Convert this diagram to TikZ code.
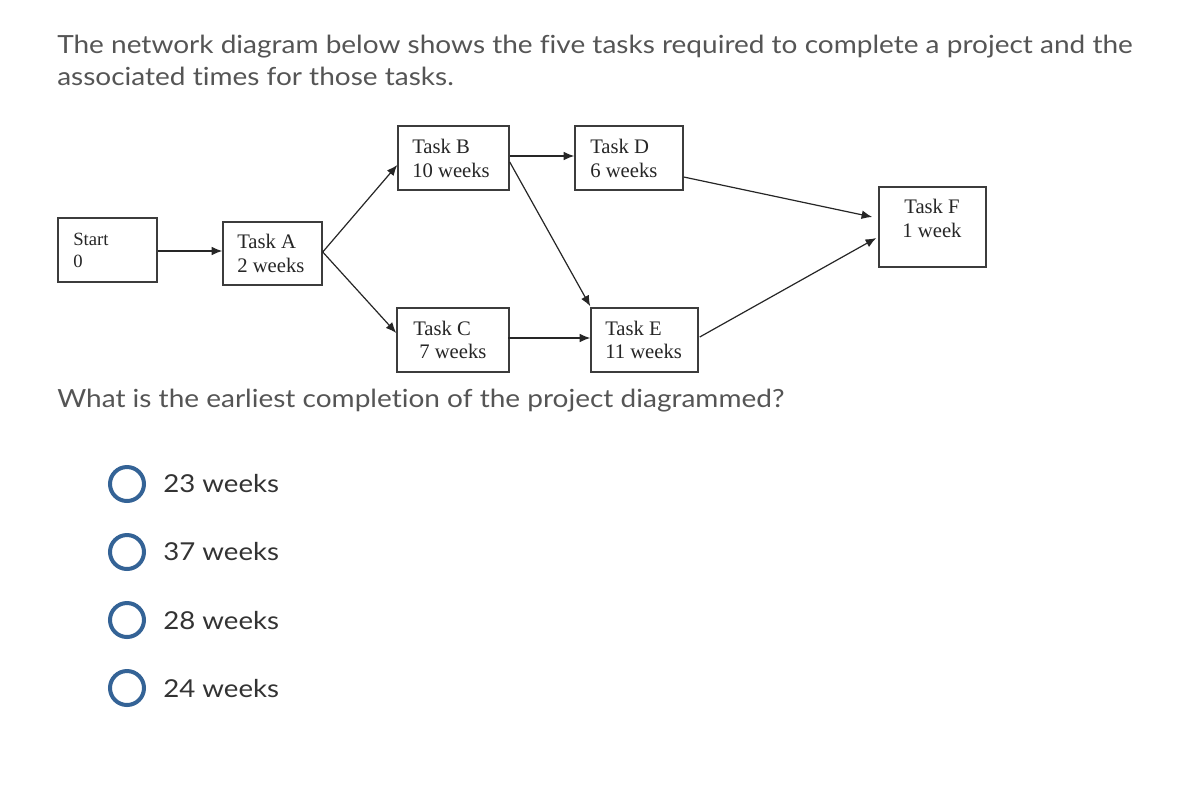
\documentclass[tikz,border=0pt]{standalone}
\usepackage{fontspec}
\setmainfont{Lato}[FakeStretch=1.12,Ligatures=NoCommon]
\newfontfamily\tnr{Liberation Serif}
\usetikzlibrary{arrows.meta,calc}
\definecolor{qtext}{RGB}{85,85,85}
\definecolor{otext}{RGB}{51,51,51}
\definecolor{ring}{RGB}{52,99,150}
\definecolor{dline}{RGB}{60,60,60}
\begin{document}
\begin{tikzpicture}[x=0.75pt,y=-0.75pt,
  box/.style={draw=dline,line width=1.1pt,inner sep=0pt,rectangle},
  tlab/.style={anchor=base west,inner sep=0pt,font=\tnr\fontsize{15.5}{18}\selectfont,text=black!85},
  conn/.style={draw=black!85,line width=0.9pt,-{Latex[length=8pt,width=6.5pt]}},
  qline/.style={anchor=base west,inner sep=0pt,font=\fontsize{18.75}{22}\selectfont,text=qtext},
  opt/.style={anchor=west,inner sep=0pt,font=\fontsize{18.5}{22}\selectfont,text=otext},
  radio/.style={draw=ring,line width=3pt,circle,minimum size=25.5pt,inner sep=0pt}]
\useasboundingbox[fill=white] (0,0) rectangle (1188,794);

% question text
\node[qline] (q1) at (57,53) {The network diagram below shows the five tasks required to complete a project and the};
\node[qline] (q2) at (57,85) {associated times for those tasks.};

% boxes
\node[box,minimum width=74.25pt,minimum height=48pt] (S) at (107.5,250) {};
\node[box,minimum width=74.25pt,minimum height=47.25pt] (A) at (272.5,253.5) {};
\node[box,minimum width=83.25pt,minimum height=48pt] (B) at (453.5,158) {};
\node[box,minimum width=81pt,minimum height=48pt] (D) at (629,158) {};
\node[box,minimum width=84pt,minimum height=48pt] (C) at (453,340) {};
\node[box,minimum width=80.25pt,minimum height=48pt] (E) at (644.5,340) {};
\node[box,minimum width=80.25pt,minimum height=60pt] (F) at (932.5,227) {};

% box texts
\node[tlab,font=\tnr\fontsize{14}{16}\selectfont] (s1) at (73,245) {Start};
\node[tlab,font=\tnr\fontsize{14}{16}\selectfont] (s2) at (73,267) {0};
\node[tlab] (a1) at (237,248) {Task A};
\node[tlab] (a2) at (237,272) {2 weeks};
\node[tlab] (b1) at (412,153) {Task B};
\node[tlab] (b2) at (412,177) {10 weeks};
\node[tlab] (d1) at (590,153) {Task D};
\node[tlab] (d2) at (590,177) {6 weeks};
\node[tlab] (c1) at (413,335) {Task C};
\node[tlab] (c2) at (419,358) {7 weeks};
\node[tlab] (e1) at (605,335) {Task E};
\node[tlab] (e2) at (605,358) {11 weeks};
\node[tlab,anchor=base] (f1) at (932,213) {Task F};
\node[tlab,anchor=base] (f2) at (932,237) {1 week};

% connectors
\draw[conn] ($(S.east)+(0,1)$) -- ($(A.west)+(0,-2.5)$);
\draw[conn] ($(A.east)+(0,-1.5)$) -- ($(B.west)+(0,7)$);
\draw[conn] ($(A.east)+(0,-1.5)$) -- ($(C.west)+(0,-7)$);
\draw[conn] ($(B.east)+(0,-2)$) -- ($(D.west)+(0,-2)$);
\draw[conn] ($(B.east)+(0,4)$) -- ($(E.north west)+(0,-1)$);
\draw[conn] ($(C.west)+(112,-2)$) -- ($(E.west)+(0,-2)$);
\draw[conn] ($(D.east)+(0,19)$) -- ($(F.west)+(-6,-10)$);
\draw[conn] ($(E.east)+(1,-3)$) -- ($(F.west)+(-2,11)$);

\node[qline] (q3) at (57,407) {What is the earliest completion of the project diagrammed?};

% options
\node[radio] (r1) at (127,484) {};
\node[radio] (r2) at (127,552) {};
\node[radio] (r3) at (127,620) {};
\node[radio] (r4) at (127,688) {};
\node[opt] (o1) at (163,484) {23 weeks};
\node[opt] (o2) at (163,552) {37 weeks};
\node[opt] (o3) at (163,620) {28 weeks};
\node[opt] (o4) at (163,688) {24 weeks};
\end{tikzpicture}
\end{document}
